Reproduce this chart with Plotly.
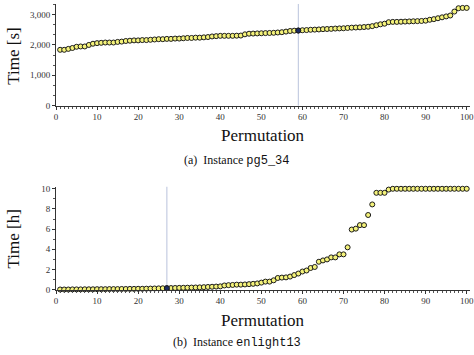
import plotly.graph_objects as go

# ---------------- data ----------------
perm = list(range(1, 101))

time_pg5_34_s = [
    1840, 1840, 1870, 1900, 1940, 1950, 1950, 2000, 2040, 2060,
    2070, 2080, 2080, 2080, 2100, 2110, 2130, 2140, 2150, 2150,
    2160, 2160, 2170, 2180, 2190, 2190, 2200, 2200, 2210, 2210,
    2220, 2230, 2230, 2240, 2240, 2250, 2260, 2280, 2290, 2300,
    2300, 2300, 2300, 2305, 2310, 2350, 2370, 2375, 2380, 2385,
    2390, 2395, 2400, 2410, 2420, 2440, 2460, 2470, 2475, 2485,
    2490, 2500, 2505, 2510, 2520, 2525, 2530, 2540, 2545, 2550,
    2560, 2570, 2575, 2580, 2590, 2600, 2620, 2650, 2680, 2700,
    2750, 2760, 2760, 2765, 2770, 2775, 2780, 2785, 2790, 2800,
    2830, 2850, 2880, 2910, 2940, 2970, 3100, 3210, 3220, 3220,
]

time_enlight13_h = [
    0.02, 0.02, 0.02, 0.03, 0.03, 0.03, 0.04, 0.04, 0.04, 0.05,
    0.05, 0.05, 0.06, 0.06, 0.06, 0.07, 0.07, 0.08, 0.08, 0.09,
    0.09, 0.10, 0.11, 0.12, 0.13, 0.14, 0.15, 0.16, 0.17, 0.18,
    0.19, 0.20, 0.21, 0.22, 0.23, 0.25, 0.27, 0.29, 0.31, 0.33,
    0.42, 0.45, 0.47, 0.50, 0.50, 0.52, 0.55, 0.58, 0.62,
    0.70, 0.80, 0.80, 0.93, 1.16, 1.20, 1.22, 1.30, 1.45, 1.60,
    1.80, 1.90, 2.15, 2.25, 2.77, 2.90, 3.00, 3.20, 3.20, 3.50,
    3.50, 4.20, 5.96, 6.05, 6.40, 6.40, 7.40, 8.45, 9.60, 9.60,
    9.60, 9.92,
    10.0, 10.0, 10.0, 10.0, 10.0, 10.0, 10.0, 10.0, 10.0, 10.0,
    10.0, 10.0, 10.0, 10.0, 10.0, 10.0, 10.0, 10.0, 10.0,
]

highlight_pg5_34 = 59
highlight_enlight13 = 27

x_ticks = [0, 10, 20, 30, 40, 50, 60, 70, 80, 90, 100]
y_ticks_top = [0, 1000, 2000, 3000]
y_ticks_bottom = [0, 2, 4, 6, 8, 10]

# ---------------- styling ----------------
SERIF = "Liberation Serif"
MONO = "Liberation Mono"
FILL = "#f4f27a"
HILITE = "#1c2b63"
VLINE = "#b9c3dc"
AXIS = "#333333"

fig = go.Figure()

def add_series(xs, ys, hi, xa, ya):
    fig.add_trace(go.Scatter(
        x=xs, y=ys, mode="markers", xaxis=xa, yaxis=ya,
        marker=dict(size=5, color=FILL, line=dict(color="#1a1a1a", width=1)),
        showlegend=False, cliponaxis=False))
    fig.add_trace(go.Scatter(
        x=[xs[hi - 1]], y=[ys[hi - 1]], mode="markers", xaxis=xa, yaxis=ya,
        marker=dict(size=5, color=HILITE, line=dict(color="#1a1a1a", width=1)),
        showlegend=False, cliponaxis=False))

add_series(perm, time_pg5_34_s, highlight_pg5_34, "x", "y")
add_series(perm, time_enlight13_h, highlight_enlight13, "x2", "y2")

fig.add_shape(type="line", xref="x", yref="y domain", x0=highlight_pg5_34, x1=highlight_pg5_34,
              y0=0, y1=1, line=dict(color=VLINE, width=1), layer="below")
fig.add_shape(type="line", xref="x2", yref="y2 domain", x0=highlight_enlight13, x1=highlight_enlight13,
              y0=0, y1=1, line=dict(color=VLINE, width=1), layer="below")

H = 355.0
def py(px):
    return 1 - px / H

xaxis_common = dict(
    range=[0, 100.8], tickvals=x_ticks, showline=True, linecolor=AXIS, linewidth=1,
    ticks="outside", ticklen=3, tickcolor=AXIS, showgrid=False, zeroline=False,
    tickfont=dict(family=SERIF, size=9, color="#333333"),
    minor=dict(dtick=1, ticks="outside", ticklen=2, tickcolor="#555555", showgrid=False),
)
yaxis_common = dict(
    showline=True, linecolor=AXIS, linewidth=1, ticks="outside", ticklen=3,
    tickcolor=AXIS, showgrid=False, zeroline=False,
    tickfont=dict(family=SERIF, size=9, color="#333333"),
)

fig.update_layout(
    width=474, height=355,
    margin=dict(l=56, r=4, t=0, b=0),
    plot_bgcolor="white", paper_bgcolor="white",
    xaxis=dict(domain=[0, 1], anchor="y", **xaxis_common),
    yaxis=dict(domain=[py(105), py(1)], anchor="x", range=[0, 3350],
               tickvals=y_ticks_top, tickformat=",",
               minor=dict(dtick=1000 / 3, tick0=0, ticks="outside", ticklen=2,
                          tickcolor="#555555", showgrid=False),
               **yaxis_common),
    xaxis2=dict(domain=[0, 1], anchor="y2", **xaxis_common),
    yaxis2=dict(domain=[py(293.3), py(188)], anchor="x2", range=[0, 10.2],
                tickvals=y_ticks_bottom,
                minor=dict(dtick=1, ticks="outside", ticklen=2,
                           tickcolor="#555555", showgrid=False),
                **yaxis_common),
)

def ann(text, x, y, size, angle=0):
    fig.add_annotation(text=text, xref="paper", yref="paper",
                       x=(x - 56) / (474 - 60), y=py(y), showarrow=False,
                       xanchor="center", yanchor="middle", textangle=angle,
                       font=dict(family=SERIF, size=size, color="#111111"))

ann("Time [s]", 14, 55, 17, -90)
ann("Permutation", 263, 136, 17)
ann("(a)  Instance <span style='font-family:%s'>pg5_34</span>" % MONO, 237, 161, 12)
ann("Time [h]", 14, 242, 17, -90)
ann("Permutation", 263, 325, 17)
ann("(b)  Instance <span style='font-family:%s'>enlight13</span>" % MONO, 237, 347, 12)

fig.write_html(
    "out.html",
    config={"displayModeBar": False},
    post_script="document.body.style.margin='0';document.body.style.padding='0';"
                "document.body.style.overflow='hidden';",
)
